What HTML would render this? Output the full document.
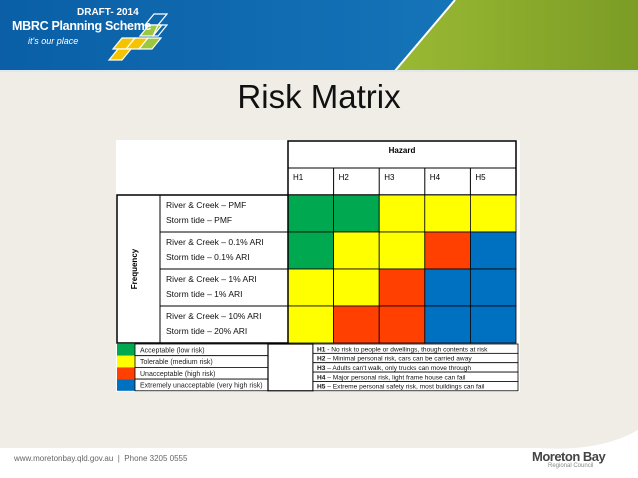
<!DOCTYPE html>
<html><head><meta charset="utf-8"><style>
body{margin:0;width:638px;height:478px;overflow:hidden;font-family:"Liberation Sans",sans-serif;background:#fff;position:relative}
.abs{position:absolute}
</style></head><body>
<svg class="abs" style="left:0;top:0" width="638" height="478">
<defs>
<linearGradient id="bl" x1="0" x2="1"><stop offset="0" stop-color="#0a5fa6"/><stop offset="1" stop-color="#1a7cc0"/></linearGradient>
<linearGradient id="gr" x1="0" x2="1"><stop offset="0" stop-color="#9ab934"/><stop offset="1" stop-color="#7b9c25"/></linearGradient>
</defs>
<rect x="0" y="0" width="638" height="72" fill="url(#bl)"/>
<polygon points="455,0 638,0 638,72 395,72" fill="url(#gr)"/>
<line x1="455" y1="0" x2="394" y2="72" stroke="#fff" stroke-width="2"/>
<rect x="0" y="70" width="638" height="2" fill="#dfe8ef"/>
<path d="M0,72 H638 V430 Q600,452 540,448 H0 Z" fill="#efede6"/>
<g stroke="#fff" stroke-width="1.2">
<polygon points="154,14 167,14 158,25 145,25" fill="none"/>
<polygon points="149,25 162,25 153,36 140,36" fill="#9cc840"/>
<polygon points="158,25 167,25 158,36 153,36" fill="none"/>
<polygon points="122,38 135,38 126,49 113,49" fill="#f5c400"/>
<polygon points="135,38 148,38 139,49 126,49" fill="#f5c400"/>
<polygon points="148,38 161,38 152,49 139,49" fill="#9cc840"/>
<polygon points="118,49 131,49 122,60 109,60" fill="#f5c400"/>
</g>
</svg>
<div class="abs" style="left:77px;top:7px;color:#fff;font-size:10px;font-weight:bold">DRAFT- 2014</div>
<div class="abs" style="left:12px;top:19px;color:#fff;font-size:12.5px;font-weight:bold;letter-spacing:-0.3px">MBRC Planning Scheme</div>
<div class="abs" style="left:28px;top:36px;color:#fff;font-size:9px;font-style:italic">it's our place</div>
<div class="abs" style="left:0;width:638px;top:78px;text-align:center;font-size:33px;color:#111">Risk Matrix</div>

<svg class="abs" style="left:0;top:0" width="638" height="478" id="chart"></svg>

<div class="abs" style="left:14px;top:454px;font-size:8px;color:#666">www.moretonbay.qld.gov.au &nbsp;|&nbsp; Phone 3205 0555</div>
<div class="abs" style="left:532px;top:449px;font-size:13px;font-weight:bold;color:#444;letter-spacing:-0.5px">Moreton Bay</div>
<div class="abs" style="left:548px;top:463px;font-size:6px;color:#888">Regional Council</div>

<script>
const hazards=["H1","H2","H3","H4","H5"];
const freqA=["River & Creek – PMF","River & Creek – 0.1% ARI","River & Creek – 1% ARI","River & Creek – 10% ARI"];
const freqB=["Storm tide – PMF","Storm tide – 0.1% ARI","Storm tide – 1% ARI","Storm tide – 20% ARI"];
const risk=[[0,0,1,1,1],[0,1,1,2,3],[1,1,2,3,3],[1,2,2,3,3]];
const riskColors=["#00a94f","#ffff00","#ff4000","#0070c0"];
const riskLabels=["Acceptable (low risk)","Tolerable (medium risk)","Unacceptable (high risk)","Extremely unacceptable (very high risk)"];
const hazardDesc=[["H1"," -  No risk to people or dwellings, though contents at risk"],["H2"," – Minimal personal risk, cars can be carried away"],["H3"," – Adults can't walk, only trucks can move through"],["H4"," – Major personal risk, light frame house can fail"],["H5"," – Extreme personal safety risk, most buildings can fail"]];
const svg=document.getElementById('chart');const NS="http://www.w3.org/2000/svg";
function mk(t,a,txt){const e=document.createElementNS(NS,t);for(const k in a)e.setAttribute(k,a[k]);if(txt!=null)e.textContent=txt;svg.appendChild(e);return e;}
const gx=288,cw=45.6,gy=195,rh=37;
const X=i=>gx+i*cw, Y=j=>gy+j*rh;
let e=mk('rect',{x:116,y:140,width:404,height:252,fill:'#fff'});

e=mk('rect',{x:gx,y:141,width:cw*5,height:54,fill:'#fff',stroke:'#000','stroke-width':1.5});

mk('line',{x1:gx,y1:168,x2:gx+cw*5,y2:168,stroke:'#000'});
e=mk('text',{x:gx+cw*2.5,y:153,'font-size':8,'font-weight':'bold','text-anchor':'middle'},'Hazard');

hazards.forEach((h,i)=>{if(i>0)mk('line',{x1:X(i),y1:168,x2:X(i),y2:195,stroke:'#000'});
 e=mk('text',{x:X(i)+5,y:180,'font-size':8},h);});
risk.forEach((row,j)=>row.forEach((v,i)=>{e=mk('rect',{x:X(i),y:Y(j),width:cw,height:rh,fill:riskColors[v],stroke:'#000','stroke-width':0.8});
 }));
e=mk('rect',{x:117,y:gy,width:gx-117,height:rh*4,fill:'none',stroke:'#000','stroke-width':1.5});

mk('line',{x1:160,y1:gy,x2:160,y2:gy+rh*4,stroke:'#000'});
e=mk('text',{x:0,y:0,'font-size':8,'font-weight':'bold','text-anchor':'middle',transform:`translate(137,${gy+rh*2}) rotate(-90)`},'Frequency');

freqA.forEach((f,j)=>{if(j>0)mk('line',{x1:160,y1:Y(j),x2:gx,y2:Y(j),stroke:'#000'});
 e=mk('text',{x:166,y:Y(j)+13,'font-size':8.5,fill:'#111'},f);
 e=mk('text',{x:166,y:Y(j)+28,'font-size':8.5,fill:'#111'},freqB[j]);});
const ly=344,lh=11.7;
riskLabels.forEach((l,k)=>{e=mk('rect',{x:117,y:ly+k*lh,width:18,height:lh,fill:riskColors[k]});
 mk('rect',{x:135,y:ly+k*lh,width:133,height:lh,fill:'#fff',stroke:'#000','stroke-width':0.8});
 e=mk('text',{x:140,y:ly+k*lh+8.5,'font-size':7,fill:'#222'},l);});
mk('rect',{x:268,y:ly,width:45,height:lh*4,fill:'#fff',stroke:'#000','stroke-width':1.2});
const dh=lh*4/5;
hazardDesc.forEach((d,k)=>{mk('rect',{x:313,y:ly+k*dh,width:205,height:dh,fill:'#fff',stroke:'#000','stroke-width':0.8});
 e=mk('text',{x:317,y:ly+k*dh+7.3,'font-size':6.6,fill:'#111'});
 const b=document.createElementNS(NS,'tspan');b.setAttribute('font-weight','bold');b.textContent=d[0];e.appendChild(b);e.appendChild(document.createTextNode(d[1]));});
</script>
</body></html>
